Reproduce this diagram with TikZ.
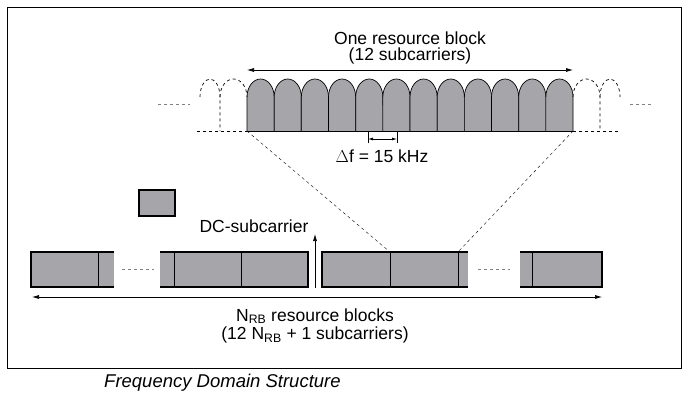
\documentclass[tikz,border=0pt]{standalone}
\usepackage{fontspec}
\setmainfont{Liberation Sans}
\usetikzlibrary{arrows.meta}
\begin{document}
\begin{tikzpicture}[x=1pt,y=-1pt,
  edge/.style={line width=1.3pt},
  thin/.style={line width=0.7pt},
  tip/.style={-{Latex[length=7pt,width=4pt]}},
  lbl/.style={font=\fontsize{17.5}{20}\selectfont,inner sep=0pt},
  gdash/.style={gray,dashed,line width=0.8pt}]
\definecolor{gfill}{RGB}{166,166,170}
\useasboundingbox (0,0) rectangle (692,401);
\draw[line width=0.6pt] (7,7) rectangle (681,368);
\node[lbl,font=\itshape\fontsize{18.5}{20}\selectfont,anchor=west] (cap) at (104,383) {Frequency Domain Structure};
% subcarriers
\foreach \i in {0,...,11}{
  \pgfmathsetmacro{\xa}{247+\i*27.17}
  \fill[gfill] (\xa,131) -- (\xa,97) arc[start angle=180,end angle=360,x radius=13.58,y radius=18] -- (\xa+27.17,131) -- cycle;
  \draw[thin] (\xa,131) -- (\xa,97) arc[start angle=180,end angle=360,x radius=13.58,y radius=18] -- (\xa+27.17,131);
}
\draw[thin] (247,131) -- (573,131);
% dashed neighbours
\draw[thin,dashed] (200,97) arc[start angle=180,end angle=360,x radius=10,y radius=18] -- (220,131);
\draw[thin,dashed] (220,97) arc[start angle=180,end angle=360,x radius=13.5,y radius=18];
\draw[thin,dashed] (573,97) arc[start angle=180,end angle=360,x radius=13.5,y radius=18] -- (600,131);
\draw[thin,dashed] (600,97) arc[start angle=180,end angle=360,x radius=10,y radius=18];
\draw[thin,dashed] (197,131) -- (247,131);
\draw[thin,dashed] (573,131) -- (618,131);
\draw[gdash] (158,104) -- (190,104);
\draw[gdash] (630,104) -- (652,104);
\coordinate (ta) at (247,70); \coordinate (tb) at (573,70);
\draw[thin,tip] (410,70) -- (ta);
\draw[thin,tip] (410,70) -- (tb);
\node[lbl] (t1) at (410,38) {One resource block};
\node[lbl] (t2) at (410,56) {(12 subcarriers)};
% delta f
\coordinate (d1) at (368,131); \coordinate (d2) at (397,131);
\draw[thin] (d1) -- ++(0,12); \draw[thin] (d2) -- ++(0,12);
\draw[thin,{Latex[length=5pt,width=3pt]}-{Latex[length=5pt,width=3pt]}] (368,139) -- (397,139);
\node[lbl] (df) at (382,156) {$\Delta$f = 15 kHz};
% zoom lines
\draw[dashed,line width=0.4pt] (247,131) -- (390,252);
\draw[dashed,line width=0.4pt] (573,131) -- (458,252);
% small square
\node[draw,edge,fill=gfill,minimum width=36pt,minimum height=26pt,inner sep=0pt] (sq) at (157,203) {};
% bottom blocks
\fill[gfill] (31,252) rectangle (114,287);
\draw[edge] (114,252) -- (31,252) -- (31,287) -- (114,287);
\draw[thin] (98,252) -- (98,287);
\fill[gfill] (160,252) rectangle (308,287);
\draw[edge] (160,252) -- (308,252) -- (308,287) -- (160,287);
\draw[thin] (174,252) -- (174,287); \draw[thin] (241,252) -- (241,287);
\fill[gfill] (322,252) rectangle (468,287);
\draw[edge] (468,252) -- (322,252) -- (322,287) -- (468,287);
\draw[thin] (390,252) -- (390,287); \draw[thin] (458,252) -- (458,287);
\fill[gfill] (520,252) rectangle (602,287);
\draw[edge] (520,252) -- (602,252) -- (602,287) -- (520,287);
\draw[thin] (532,252) -- (532,287);
\draw[gdash] (122,269) -- (154,269);
\draw[gdash] (478,269) -- (510,269);
% DC
\coordinate (dc0) at (315,288);
\draw[thin,tip] (dc0) -- (315,234);
\node[lbl] (dct) at (254,226) {DC-subcarrier};
% bottom arrow
\draw[thin,{Latex[length=7pt,width=4pt]}-{Latex[length=7pt,width=4pt]}] (32,297) -- (602,297);
\node[lbl] (b1) at (315,316) {N\textsubscript{RB} resource blocks};
\node[lbl] (b2) at (315,335) {(12 N\textsubscript{RB} + 1 subcarriers)};
\end{tikzpicture}
\end{document}
